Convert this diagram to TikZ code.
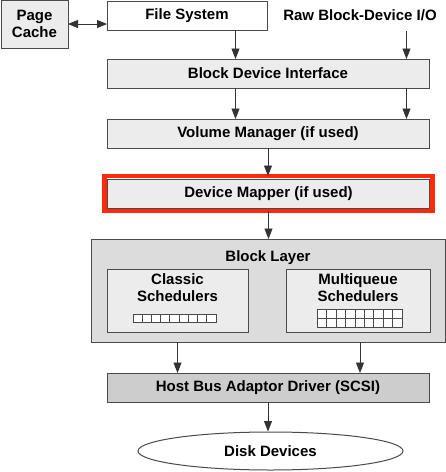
\documentclass[tikz,border=0pt]{standalone}
\usepackage{fontspec}
\setmainfont{Liberation Sans}
\usetikzlibrary{arrows.meta,shapes.geometric}
\definecolor{edge}{HTML}{4A4A4A}
\definecolor{lite}{HTML}{ECECEC}
\definecolor{mid}{HTML}{DCDCDC}
\definecolor{dark}{HTML}{CDCDCD}
\definecolor{hot}{HTML}{FF2A0A}
\begin{document}
\begin{tikzpicture}[x=1pt,y=-1pt,
  font=\fontsize{15}{17}\selectfont\bfseries,
  box/.style={draw=edge,line width=1pt,inner sep=0pt,outer sep=0pt,align=center,rectangle},
  arr/.style={draw=black!80,line width=0.9pt,-{Triangle[length=10.5pt,width=8pt]}},
  darr/.style={draw=black!80,line width=0.9pt,{Triangle[length=10pt,width=8pt]}-{Triangle[length=10pt,width=8pt]}},
  gridc/.style={draw=edge,line width=0.8pt}]
\useasboundingbox (0,0) rectangle (446,472);
% top row
\node[box,fill=lite,minimum width=67pt,minimum height=48pt] (pc) at (34.5,24) {Page\\Cache};
\node[box,fill=white,minimum width=160pt,minimum height=29pt] (fs) at (187,15.5) {File System};
\node[inner sep=0pt] (raw) at (360,15) {Raw Block-Device I/O};
\coordinate (rawend) at (406.5,31);
% stack
\node[box,fill=lite,minimum width=322pt,minimum height=29pt] (bdi) at (268,73.5) {Block Device Interface};
\node[box,fill=lite,minimum width=322pt,minimum height=29pt] (vm) at (268,133.5) {Volume Manager (if used)};
\node[draw=hot,line width=4.5pt,inner sep=0pt,outer sep=0pt,minimum width=328pt,minimum height=35pt] (dmred) at (268.5,193.5) {};
\node[box,fill=lite,minimum width=322pt,minimum height=29pt] (dm) at (268.5,193.5) {Device Mapper (if used)};
% block layer
\node[box,fill=mid,minimum width=354pt,minimum height=103pt] (bl) at (268,290.5) {};
\node[inner sep=0pt] (bllab) at (268,257.5) {Block Layer};
\node[box,fill=lite,minimum width=141pt,minimum height=63pt] (cs) at (177.5,300.5) {};
\node[inner sep=0pt,align=center,anchor=north] (cslab) at (177.5,273) {Classic\\Schedulers};
\node[box,fill=lite,minimum width=144pt,minimum height=63pt] (ms) at (358,300.5) {};
\node[inner sep=0pt,align=center,anchor=north] (mslab) at (358,273) {Multiqueue\\Schedulers};
% grids
\draw[gridc,fill=white] (133,314) rectangle (216,322.5);
\foreach \i in {1,...,8} {\draw[gridc] ({133+\i*83/9},314) -- ({133+\i*83/9},322.5);}
\draw[gridc,fill=white] (317.5,309.5) rectangle (402,327.5);
\foreach \i in {1,...,8} {\draw[gridc] ({317.5+\i*84.5/9},309.5) -- ({317.5+\i*84.5/9},327.5);}
\draw[gridc] (317.5,318.5) -- (402,318.5);
% HBA and disks
\node[box,fill=dark,minimum width=322pt,minimum height=29pt] (hba) at (268,387.5) {Host Bus Adaptor Driver (SCSI)};
\node[draw=edge,line width=1pt,ellipse,fill=white,inner sep=0pt,minimum width=265pt,minimum height=38pt] (disk) at (270.5,451) {Disk Devices};
% connectors
\draw[darr] (pc.east) -- (pc.east -| fs.west);
\draw[arr] ([xshift=48.5pt]fs.south) -- ([xshift=48.5pt]fs.south |- bdi.north);
\draw[arr] (rawend) -- (rawend |- bdi.north);
\draw[arr] ([xshift=48.5pt]fs.south |- bdi.south) -- ([xshift=48.5pt]fs.south |- vm.north);
\draw[arr] (rawend |- bdi.south) -- (rawend |- vm.north);
\draw[arr] (vm.south) -- (vm.south |- dmred.north);
\draw[arr] (dmred.south) -- (dmred.south |- bl.north);
\draw[arr] (cs.south |- bl.south) -- (cs.south |- hba.north);
\draw[arr] ([xshift=2pt]ms.south |- bl.south) -- ([xshift=2pt]ms.south |- hba.north);
\draw[arr] (hba.south) -- (hba.south |- disk.north);
\end{tikzpicture}
\end{document}
